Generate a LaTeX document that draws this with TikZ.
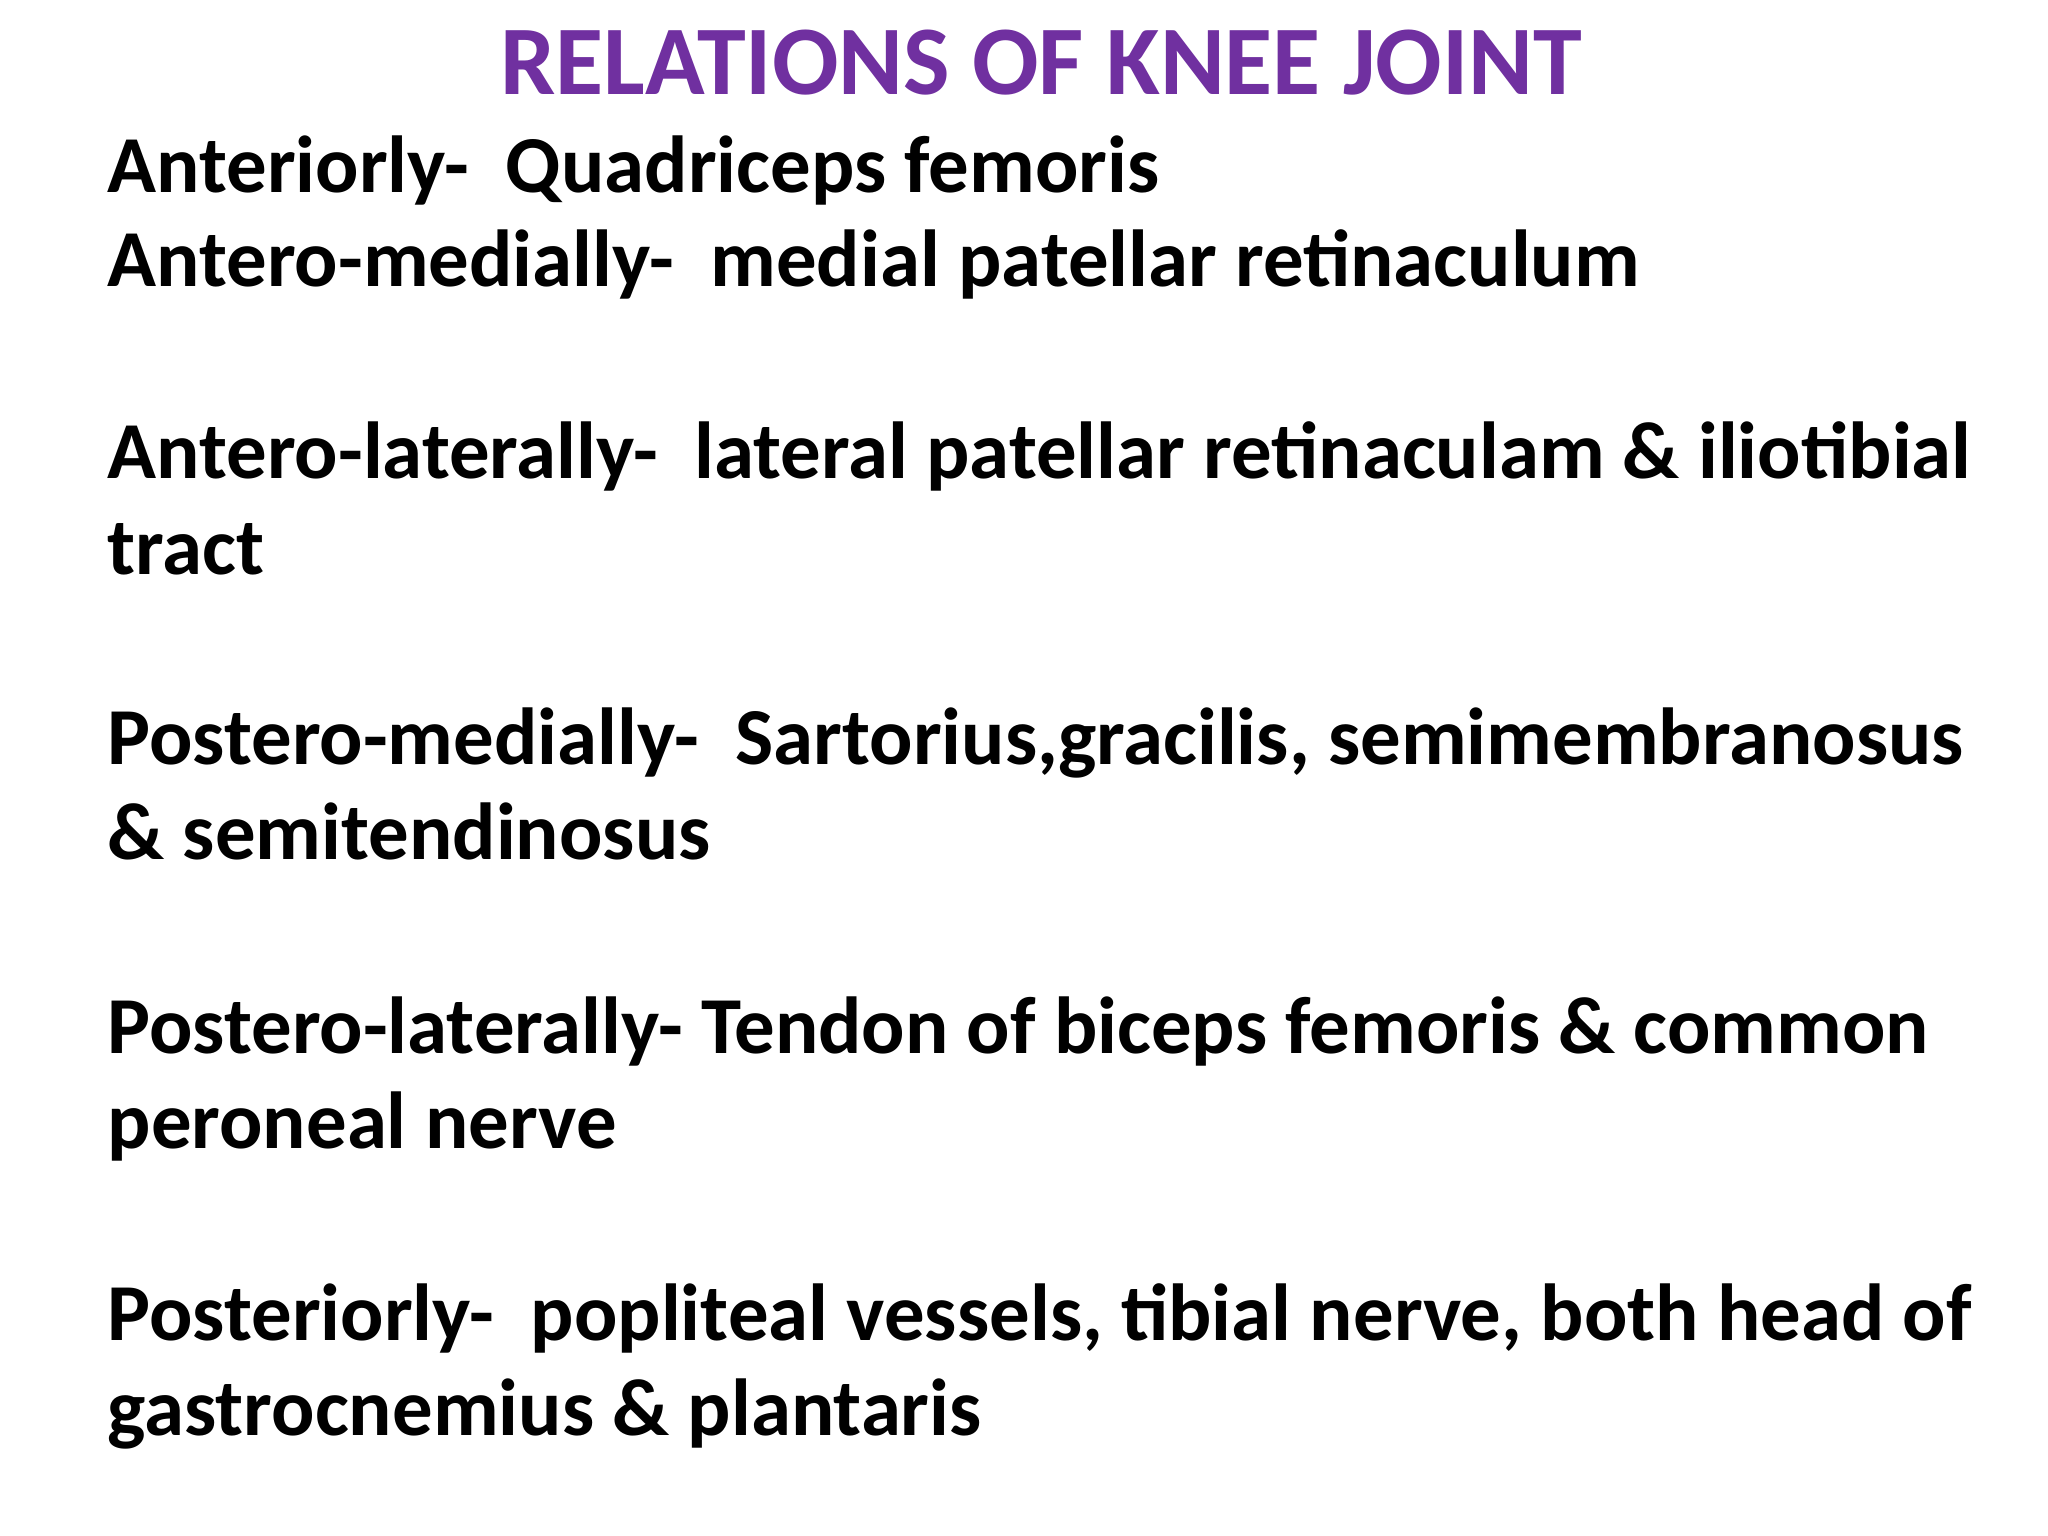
\documentclass[tikz,border=0pt]{standalone}
\usepackage{fontspec}
\setmainfont{Carlito}
\definecolor{ttl}{HTML}{7030A0}
\begin{document}
\begin{tikzpicture}[x=1cm,y=1cm,
  ln/.style={anchor=base west,inner sep=0pt,font=\fontsize{23}{27}\selectfont\bfseries},
  tt/.style={anchor=base,inner sep=0pt,text=ttl,font=\fontsize{28}{32}\selectfont\bfseries}]
\useasboundingbox[fill=white] (0,0) rectangle (20.48,-15.36);
\node[tt] (title) at (10.41,-0.95) {RELATIONS OF KNEE JOINT};
\node[ln] (l1) at (1.07,-1.93) {Anteriorly-\ \ Quadriceps femoris};
\node[ln] (l2) at (1.07,-2.87) {Antero-medially-\ \ medial patellar retinaculum};
\node[ln] (l3) at (1.07,-4.79) {Antero-laterally-\ \ lateral patellar retinaculam \& iliotibial};
\node[ln] (l4) at (1.07,-5.75) {tract};
\node[ln] (l5) at (1.07,-7.64) {Postero-medially-\ \ Sartorius,gracilis, semimembranosus};
\node[ln] (l6) at (1.07,-8.59) {\& semitendinosus};
\node[ln] (l7) at (1.07,-10.53) {Postero-laterally- Tendon of biceps femoris \& common};
\node[ln] (l8) at (1.07,-11.48) {peroneal nerve};
\node[ln] (l9) at (1.07,-13.40) {Posteriorly-\ \ popliteal vessels, tibial nerve, both head of};
\node[ln] (l10) at (1.07,-14.35) {gastrocnemius \& plantaris};
\end{tikzpicture}
\end{document}
